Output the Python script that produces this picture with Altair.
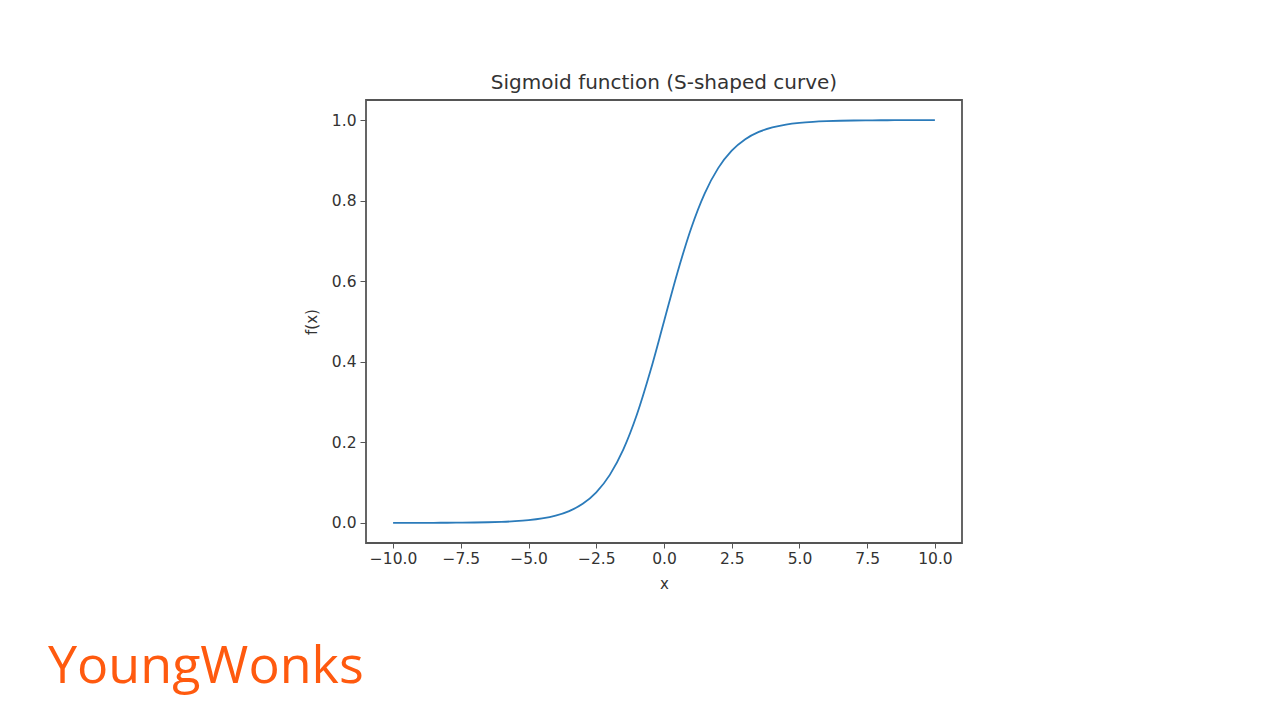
import altair as alt
import pandas as pd

xs = [-10.0, -9.5, -9.0, -8.5, -8.0, -7.5, -7.0, -6.5, -6.0, -5.5, -5.0, -4.5, -4.0,
      -3.5, -3.0, -2.5, -2.0, -1.5, -1.0, -0.5, 0.0, 0.5, 1.0, 1.5, 2.0, 2.5, 3.0,
      3.5, 4.0, 4.5, 5.0, 5.5, 6.0, 6.5, 7.0, 7.5, 8.0, 8.5, 9.0, 9.5, 10.0]
fx = [0.0000, 0.0001, 0.0001, 0.0002, 0.0003, 0.0006, 0.0009, 0.0015, 0.0025, 0.0041,
      0.0067, 0.0110, 0.0180, 0.0293, 0.0474, 0.0759, 0.1192, 0.1824, 0.2689, 0.3775,
      0.5000, 0.6225, 0.7311, 0.8176, 0.8808, 0.9241, 0.9526, 0.9707, 0.9820, 0.9890,
      0.9933, 0.9959, 0.9975, 0.9985, 0.9991, 0.9994, 0.9997, 0.9998, 0.9999, 0.9999,
      1.0000]
x_ticks = [-10.0, -7.5, -5.0, -2.5, 0.0, 2.5, 5.0, 7.5, 10.0]
y_ticks = [0.0, 0.2, 0.4, 0.6, 0.8, 1.0]
title_text = "Sigmoid function (S-shaped curve)"
brand = ["YoungWonks"]

df = pd.DataFrame({"x": xs, "fx": fx})

FONT = "DejaVu Sans"
TXT = "#333333"
FRAME = "#555555"

line = alt.Chart(df).mark_line(color="#2b7bba", strokeWidth=1.8, interpolate="monotone").encode(
    x=alt.X("x:Q", scale=alt.Scale(domain=[-11, 11], nice=False, zero=False),
            axis=alt.Axis(values=x_ticks, format=".1f", title="x", grid=False, domain=False,
                          tickColor=FRAME, tickSize=5, tickWidth=1, labelFont=FONT,
                          labelFontSize=15.5, labelColor=TXT, labelPadding=3,
                          titleFont=FONT, titleFontSize=15, titleFontWeight="normal",
                          titleColor=TXT, titlePadding=10)),
    y=alt.Y("fx:Q", scale=alt.Scale(domain=[-0.05, 1.05], nice=False, zero=False),
            axis=alt.Axis(values=y_ticks, format=".1f", title="f(x)", grid=False, domain=False,
                          tickColor=FRAME, tickSize=6, tickWidth=1, labelFont=FONT,
                          labelFontSize=15.5, labelColor=TXT, labelPadding=4,
                          titleFont=FONT, titleFontSize=15, titleFontWeight="normal",
                          titleColor=TXT, titlePadding=12)),
)

brand_text = alt.Chart(pd.DataFrame({"t": brand})).mark_text(
    align="left", baseline="alphabetic", font="Open Sans", fontSize=52, color="#FF5A0F"
).encode(x=alt.value(-318), y=alt.value(583), text="t:N")

chart = alt.layer(line, brand_text).properties(
    width=596, height=443,
    title=alt.TitleParams(title_text, font=FONT, fontSize=20, fontWeight="normal",
                          color=TXT, anchor="middle", offset=7),
    autosize=alt.AutoSizeParams(type="none"),
    padding={"left": 358, "top": 92, "right": 310, "bottom": 160},
    background="white",
).configure_view(stroke=FRAME, strokeWidth=1.8)

chart.save("out.html", embed_options={"renderer": "svg", "actions": False})
